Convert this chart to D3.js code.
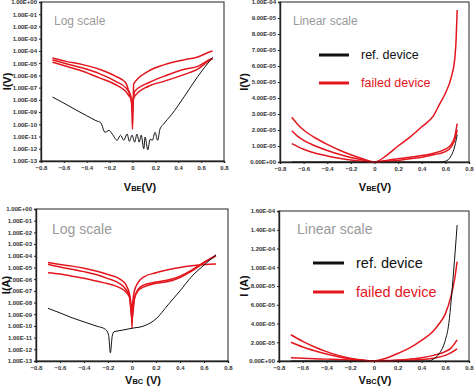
<!DOCTYPE html>
<html>
<head>
<meta charset="utf-8">
<script src="https://cdn.jsdelivr.net/npm/d3@7"></script>
<style>
  body { margin: 0; background: #fff; }
  svg { display: block; font-family: Arial, "Liberation Sans", sans-serif; }
</style>
</head>
<body>
<svg id="chart" width="474" height="386"></svg>
<script>
// - - - - - - - - - -
// data (voltages in V, currents in A)
// - - - - - - - - - -
const xTicks = [-0.8, -0.6, -0.4, -0.2, 0, 0.2, 0.4, 0.6, 0.8];
const logTicks = [1e0, 1e-1, 1e-2, 1e-3, 1e-4, 1e-5, 1e-6, 1e-7, 1e-8, 1e-9, 1e-10, 1e-11, 1e-12, 1e-13];
const linTicksBE = [0, 1e-5, 2e-5, 3e-5, 4e-5, 5e-5, 6e-5, 7e-5, 8e-5, 9e-5, 1e-4];
const linTicksBC = [0, 2e-5, 4e-5, 6e-5, 8e-5, 1e-4, 1.2e-4, 1.4e-4, 1.6e-4];
const legendNames = ['ref. device', 'failed device'];

// BE junction, log scale
const refBElog = [[-0.70, 1.7e-8], [-0.60, 5.4e-9], [-0.50, 1.6e-9], [-0.40, 5e-10], [-0.32, 2e-10], [-0.277, 1.3e-10],
  [-0.24, 2.2e-11], [-0.205, 3.2e-11], [-0.177, 1.6e-11], [-0.134, 5e-12], [-0.105, 1.3e-11], [-0.076, 5e-12],
  [-0.047, 1.6e-11], [-0.027, 4e-12], [-0.004, 1.3e-11], [0.019, 3.5e-12], [0.039, 1.6e-11], [0.059, 3.5e-12],
  [0.076, 1.3e-11], [0.099, 1e-12], [0.11, 9e-12], [0.134, 8e-13], [0.154, 6e-12], [0.174, 5e-12], [0.197, 2.2e-11],
  [0.22, 5e-12], [0.24, 4e-11], [0.27, 1e-10], [0.34, 6e-10], [0.455, 2e-8], [0.57, 8e-7], [0.685, 2e-5], [0.70, 3e-5]];
const failBElogA = [[-0.70, 2.6e-5], [-0.58, 1.4e-5], [-0.435, 7.6e-6], [-0.29, 3.2e-6], [-0.15, 8.7e-7], [-0.06, 2.5e-7],
  [-0.03, 4e-8], [-0.008, 5e-9], [0, 4e-11], [0.006, 5e-9], [0.01, 2e-7], [0.14, 2.2e-6], [0.28, 7.6e-6],
  [0.455, 1.9e-5], [0.57, 3.2e-5], [0.685, 9.1e-5], [0.70, 1e-4]];
const failBElogB = [[-0.70, 1.9e-5], [-0.58, 9.1e-6], [-0.435, 4e-6], [-0.29, 1.4e-6], [-0.15, 3.4e-7], [-0.06, 1e-7],
  [-0.02, 3e-8], [-0.005, 5e-9], [0, 1e-9], [0.005, 5e-9], [0.02, 5e-8], [0.14, 2.5e-7], [0.28, 8.7e-7],
  [0.455, 3.2e-6], [0.57, 5.5e-6], [0.685, 2.2e-5], [0.70, 2.5e-5]];
const failBElogC = [[-0.70, 1.2e-5], [-0.58, 5.5e-6], [-0.435, 2.2e-6], [-0.29, 6.3e-7], [-0.15, 1.8e-7], [-0.06, 5e-8],
  [-0.02, 1.6e-8], [0, 1e-8], [0.02, 2e-8], [0.14, 1.3e-7], [0.28, 3.4e-7],
  [0.455, 1.2e-6], [0.57, 3.2e-6], [0.685, 2e-5], [0.70, 2.3e-5]];

// BE junction, linear scale
const refBElin = [[-0.70, 0], [0, 0], [0.55, 0], [0.60, 5e-7], [0.65, 4e-6], [0.68, 1e-5], [0.70, 1.7e-5]];
const failBElinA = [[-0.70, 2.8e-5], [-0.65, 2.35e-5], [-0.60, 2e-5], [-0.50, 1.5e-5], [-0.40, 1.1e-5], [-0.30, 7.5e-6],
  [-0.20, 4.5e-6], [-0.10, 2e-6], [0, 0], [0.10, 4e-6], [0.20, 1e-5], [0.30, 1.55e-5], [0.40, 2.2e-5],
  [0.50, 2.9e-5], [0.55, 3.6e-5], [0.60, 4.3e-5], [0.65, 5.3e-5], [0.68, 6.5e-5], [0.69, 7.5e-5], [0.70, 9.5e-5]];
const failBElinB = [[-0.70, 1.95e-5], [-0.65, 1.6e-5], [-0.60, 1.35e-5], [-0.50, 1e-5], [-0.40, 7.2e-6], [-0.30, 4.8e-6],
  [-0.20, 2.8e-6], [-0.10, 1.2e-6], [0, 0], [0.10, 1e-6], [0.20, 2e-6], [0.30, 3e-6], [0.40, 4e-6],
  [0.50, 5.5e-6], [0.60, 8e-6], [0.65, 1.1e-5], [0.68, 1.6e-5], [0.70, 2.4e-5]];
const failBElinC = [[-0.70, 1.15e-5], [-0.60, 8e-6], [-0.50, 5.5e-6], [-0.40, 3.8e-6], [-0.30, 2.4e-6], [-0.20, 1.3e-6],
  [-0.10, 5e-7], [0, 0], [0.10, 5e-7], [0.20, 1e-6], [0.30, 2e-6], [0.40, 3e-6],
  [0.50, 4.5e-6], [0.60, 6.5e-6], [0.65, 9.5e-6], [0.68, 1.4e-5], [0.70, 2e-5]];

// BC junction, log scale
const refBClog = [[-0.70, 3.2e-9], [-0.60, 1.3e-9], [-0.50, 5e-10], [-0.40, 2.2e-10], [-0.30, 1e-10], [-0.22, 5e-11],
  [-0.195, 1.6e-11], [-0.18, 5e-13], [-0.165, 1.3e-11], [-0.15, 3.2e-11], [-0.10, 4e-11], [0, 6.3e-11],
  [0.10, 1e-10], [0.20, 4e-10], [0.30, 6.3e-9], [0.40, 1e-7], [0.50, 1.8e-6], [0.60, 1.6e-5], [0.70, 1.2e-4]];
const failBClogA = [[-0.70, 2.6e-5], [-0.60, 1.8e-5], [-0.50, 1.3e-5], [-0.40, 8.5e-6], [-0.30, 5e-6], [-0.20, 2.5e-6],
  [-0.10, 1e-6], [-0.05, 3.2e-7], [-0.02, 5e-8], [-0.005, 3e-9], [0, 6.3e-11], [0.005, 6e-9], [0.02, 1e-7],
  [0.05, 5e-7], [0.10, 1.6e-6], [0.20, 3.5e-6], [0.30, 6.3e-6], [0.40, 1e-5], [0.50, 1.4e-5], [0.60, 1.8e-5], [0.70, 2e-5]];
const failBClogB = [[-0.70, 1.9e-5], [-0.60, 1.1e-5], [-0.50, 7e-6], [-0.40, 4.4e-6], [-0.30, 2.5e-6], [-0.20, 1.1e-6],
  [-0.10, 4e-7], [-0.05, 1.3e-7], [-0.02, 3.2e-8], [0, 1e-9], [0.02, 2.5e-8], [0.05, 1.3e-7], [0.10, 3.2e-7],
  [0.20, 5.6e-7], [0.30, 8.5e-7], [0.40, 1.8e-6], [0.50, 6.3e-6], [0.60, 2.8e-5], [0.70, 1.1e-4]];
const failBClogC = [[-0.70, 3.6e-6], [-0.60, 2.8e-6], [-0.50, 1.8e-6], [-0.40, 1.2e-6], [-0.30, 7e-7], [-0.20, 4e-7],
  [-0.10, 1.8e-7], [-0.05, 8e-8], [-0.02, 2.5e-8], [0, 3.2e-10], [0.02, 2e-8], [0.05, 1e-7], [0.10, 2.2e-7],
  [0.20, 4.5e-7], [0.30, 6.3e-7], [0.40, 1.4e-6], [0.50, 5e-6], [0.60, 2.5e-5], [0.70, 1e-4]];

// BC junction, linear scale
const refBClin = [[-0.70, 0], [0, 0], [0.45, 0], [0.50, 2e-6], [0.55, 8e-6], [0.60, 2.2e-5], [0.63, 4e-5],
  [0.65, 6.5e-5], [0.67, 9.5e-5], [0.70, 1.45e-4]];
const failBClinA = [[-0.70, 2.8e-5], [-0.60, 2.1e-5], [-0.50, 1.5e-5], [-0.40, 1e-5], [-0.30, 6e-6], [-0.20, 3e-6],
  [-0.10, 1e-6], [0, 0], [0.10, 3e-6], [0.20, 8e-6], [0.30, 1.4e-5], [0.40, 2.2e-5], [0.50, 3.2e-5],
  [0.55, 4e-5], [0.60, 5e-5], [0.65, 7e-5], [0.68, 8.8e-5], [0.70, 1.06e-4]];
const failBClinB = [[-0.70, 2e-5], [-0.60, 1.5e-5], [-0.50, 1.1e-5], [-0.40, 7.5e-6], [-0.30, 4.5e-6], [-0.20, 2.2e-6],
  [-0.10, 7e-7], [0, 0], [0.10, 5e-7], [0.20, 1e-6], [0.30, 2e-6], [0.40, 3.5e-6], [0.50, 6e-6],
  [0.60, 1e-5], [0.65, 1.4e-5], [0.70, 2.25e-5]];
const failBClinC = [[-0.70, 3.5e-6], [-0.60, 3e-6], [-0.50, 2.5e-6], [-0.40, 2e-6], [-0.30, 1.5e-6], [-0.20, 1e-6],
  [-0.10, 5e-7], [0, 0], [0.20, 5e-7], [0.40, 1.5e-6], [0.50, 3e-6], [0.60, 6e-6], [0.65, 9e-6], [0.70, 1.3e-5]];

// - - - - - - - - - -
const RED = '#e3161e';
const svg = d3.select('#chart');

function sci(v) {
    if (v === 0) return '0.00E+00';
    let e = Math.floor(Math.log10(v) + 1e-9);
    let m = v / Math.pow(10, e);
    return m.toFixed(2) + 'E' + (e < 0 ? '-' : '+') + String(Math.abs(e)).padStart(2, '0');
}

function panel(opt) {
    const g = svg.append('g');
    const x = d3.scaleLinear().domain([-0.8, 0.8]).range([opt.left, opt.right]);
    const y = opt.log
        ? d3.scaleLog().domain([1e-13, 1]).range([opt.bottom, opt.top])
        : d3.scaleLinear().domain([0, opt.max]).range([opt.bottom, opt.top]);

    g.append('rect')
        .attr('x', opt.left).attr('y', opt.top)
        .attr('width', opt.right - opt.left).attr('height', opt.bottom - opt.top)
        .attr('fill', '#fff').attr('stroke', '#222').attr('stroke-width', 1);

    const xa = g.append('g')
        .attr('transform', `translate(0,${opt.bottom})`)
        .call(d3.axisBottom(x).tickValues(xTicks).tickSize(2).tickPadding(3)
            .tickFormat(d => d === 0 ? '0' : d3.format('.1f')(d)));
    const ya = g.append('g')
        .attr('transform', `translate(${opt.left},0)`)
        .call(d3.axisLeft(y).tickValues(opt.ticks).tickSize(2).tickPadding(2).tickFormat(sci));
    [xa, ya].forEach(a => {
        a.select('.domain').attr('stroke', '#222').attr('stroke-width', 1.4);
        a.selectAll('line').attr('stroke', '#222');
        a.selectAll('text').attr('font-size', 6).attr('font-weight', 'bold').attr('fill', '#333');
    });

    const line = d3.line()
        .x(d => x(d[0]))
        .y(d => y(opt.log ? Math.max(d[1], 1e-13) : d[1]))
        .curve(d3.curveMonotoneX);

    opt.red.forEach(s => {
        g.append('path').datum(s).attr('d', line)
            .attr('fill', 'none').attr('stroke', RED).attr('stroke-width', 1.5);
    });
    g.append('path').datum(opt.black).attr('d', line)
        .attr('fill', 'none').attr('stroke', '#111').attr('stroke-width', 1);

    // scale note
    g.append('text')
        .attr('x', opt.noteX).attr('y', opt.noteY)
        .attr('font-size', opt.noteSize).attr('fill', '#9a9a9a')
        .text(opt.note);

    // axis titles
    const yt = g.append('text')
        .attr('transform', `translate(${opt.yLabelX},${(opt.top + opt.bottom) / 2}) rotate(-90)`)
        .attr('text-anchor', 'middle').attr('font-size', 11).attr('font-weight', 'bold').attr('fill', '#111');
    yt.text(opt.yLabel);

    const xt = g.append('text')
        .attr('x', opt.xLabelX).attr('y', opt.xLabelY)
        .attr('text-anchor', 'middle').attr('font-size', 11).attr('font-weight', 'bold').attr('fill', '#111');
    xt.append('tspan').text('V');
    xt.append('tspan').attr('font-size', 7.5).text(opt.sub);
    xt.append('tspan').text(opt.xUnit);

    if (opt.legend) {
        const lg = opt.legend;
        [['#111', 0], [RED, 1]].forEach(([c, i]) => {
            const yy = lg.y + i * lg.gap;
            g.append('line')
                .attr('x1', lg.x).attr('x2', lg.x + lg.len)
                .attr('y1', yy).attr('y2', yy)
                .attr('stroke', c).attr('stroke-width', 3);
            g.append('text')
                .attr('x', lg.x + lg.len + lg.pad).attr('y', yy + lg.size * 0.35)
                .attr('font-size', lg.size).attr('fill', c === '#111' ? '#111' : RED)
                .text(legendNames[i]);
        });
    }
}

// - - - - - - - - - -
panel({ left: 41, right: 224, top: 2, bottom: 161, log: true, ticks: logTicks,
    red: [failBElogA, failBElogB, failBElogC], black: refBElog,
    note: 'Log scale', noteX: 54, noteY: 25, noteSize: 12,
    yLabel: 'I(V)', yLabelX: 11, sub: 'BE', xUnit: '(V)', xLabelX: 140, xLabelY: 191 });

panel({ left: 280, right: 469, top: 2, bottom: 162, log: false, max: 1e-4, ticks: linTicksBE,
    red: [failBElinA, failBElinB, failBElinC], black: refBElin,
    note: 'Linear scale', noteX: 293, noteY: 25, noteSize: 12,
    yLabel: 'I(V)', yLabelX: 248, sub: 'BE', xUnit: '(V)', xLabelX: 375, xLabelY: 191,
    legend: { x: 319, y: 55, gap: 28, len: 30, pad: 12, size: 12.5 } });

panel({ left: 36, right: 228, top: 209, bottom: 361, log: true, ticks: logTicks,
    red: [failBClogA, failBClogB, failBClogC], black: refBClog,
    note: 'Log scale', noteX: 52, noteY: 234, noteSize: 14,
    yLabel: 'I(A)', yLabelX: 10, sub: 'BC', xUnit: ' (V)', xLabelX: 143, xLabelY: 384 });

panel({ left: 279, right: 469, top: 211, bottom: 361, log: false, max: 1.6e-4, ticks: linTicksBC,
    red: [failBClinA, failBClinB, failBClinC], black: refBClin,
    note: 'Linear scale', noteX: 297, noteY: 234, noteSize: 14,
    yLabel: 'I (A)', yLabelX: 248, sub: 'BC', xUnit: '(V)', xLabelX: 375, xLabelY: 384,
    legend: { x: 313, y: 263, gap: 29, len: 31, pad: 12, size: 14.5 } });
</script>
</body>
</html>
